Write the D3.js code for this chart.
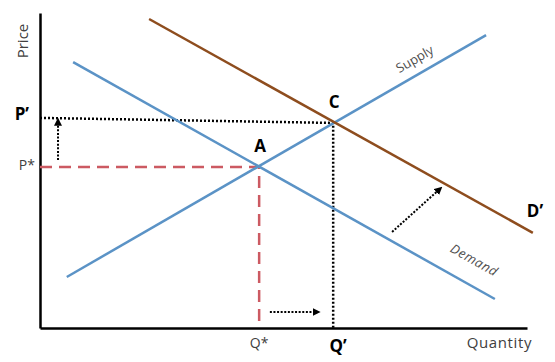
<!DOCTYPE html>
<head>
    <meta charset="UTF-8">
    <script src="https://cdnjs.cloudflare.com/ajax/libs/d3/7.8.5/d3.min.js"></script>
    <style>
        body { margin: 0; background: #fff; }
        text { font-family: "Open Sans", sans-serif; }
    </style>
</head>
<body>
    <svg id="chart"></svg>
    <script>
        //********** DATA *********************
        // curves as [quantity, price] pairs, in chart units (0..10)
        var supply = [[0.55, 1.62], [9.16, 9.30]];
        var demand = [[0.68, 8.44], [9.34, 0.92]];
        var demandNew = [[2.24, 9.81], [10.12, 3.02]];

        var pointA = [4.50, 5.11];   // Q*, P*
        var pointC = [6.02, 6.51];   // Q', P'
        var pPrimeAxis = 6.67;       // where the P' guide meets the axis

        // shift arrows: [from, to]
        var arrowPrice = [[0.37, 5.33], [0.37, 6.55]];
        var arrowQty = [[4.72, 0.51], [5.68, 0.51]];
        var arrowShift = [[7.23, 3.05], [8.20, 4.40]];

        var axisLabels = ["Price", "Quantity"];
        var pointLabels = ["A", "C"];
        var tickLabels = ["P*", "P\u2019", "Q*", "Q\u2019"];
        var curveLabels = ["Supply", "Demand", "D\u2019"];

        //********** SETUP *********************
        var width = 555, height = 362;
        var blue = "#5b93c6", brown = "#8e4d1e", red = "#cc5a62";

        var x = d3.scaleLinear().domain([0, 10]).range([40, 527]);
        var y = d3.scaleLinear().domain([0, 10]).range([328, 13]);

        var svg = d3.select("#chart").attr("width", width).attr("height", height);

        svg.append("defs").append("marker")
            .attr("id", "head")
            .attr("viewBox", "0 0 10 10")
            .attr("refX", 5).attr("refY", 5)
            .attr("markerWidth", 4).attr("markerHeight", 4)
            .attr("markerUnits", "strokeWidth")
            .attr("orient", "auto")
            .append("path")
            .attr("d", "M0,0 L10,5 L0,10 z")
            .attr("fill", "#000");

        var line = d3.line()
            .x(function (d) { return x(d[0]); })
            .y(function (d) { return y(d[1]); });

        //********** AXES *********************
        svg.append("g")
            .attr("transform", "translate(" + x(0) + ",0)")
            .call(d3.axisLeft(y).ticks(0).tickSizeOuter(0))
            .select(".domain").attr("stroke", "#000").attr("stroke-width", 2.5);

        svg.append("g")
            .attr("transform", "translate(0," + y(0) + ")")
            .call(d3.axisBottom(x).ticks(0).tickSizeOuter(0))
            .select(".domain").attr("stroke", "#000").attr("stroke-width", 2.5);

        //********** GUIDES *********************
        // red dashed lines to A
        svg.append("path")
            .attr("d", line([[0, pointA[1]], pointA, [pointA[0], 0]]))
            .attr("fill", "none").attr("stroke", red)
            .attr("stroke-width", 2.5).attr("stroke-dasharray", "12,7");

        // black dotted lines to C
        svg.append("path")
            .attr("d", line([[0, pPrimeAxis], pointC, [pointC[0], 0]]))
            .attr("fill", "none").attr("stroke", "#000")
            .attr("stroke-width", 2.5).attr("stroke-dasharray", "2,2");

        //********** CURVES *********************
        svg.append("path").attr("d", line(demand))
            .attr("fill", "none").attr("stroke", blue).attr("stroke-width", 2.5);
        svg.append("path").attr("d", line(supply))
            .attr("fill", "none").attr("stroke", blue).attr("stroke-width", 2.5);
        svg.append("path").attr("d", line(demandNew))
            .attr("fill", "none").attr("stroke", brown).attr("stroke-width", 2.5);

        //********** ARROWS *********************
        [arrowPrice, arrowQty, arrowShift].forEach(function (a) {
            svg.append("path").attr("d", line(a))
                .attr("fill", "none").attr("stroke", "#000")
                .attr("stroke-width", 2).attr("stroke-dasharray", "2,1.6")
                .attr("marker-end", "url(#head)");
        });

        //********** LABELS *********************
        svg.append("text")
            .attr("transform", "translate(" + 28 + "," + 41 + ") rotate(-90)")
            .attr("text-anchor", "middle")
            .attr("font-size", 15).attr("fill", "#404040")
            .text(axisLabels[0]);

        svg.append("text")
            .attr("x", x(10) + 5).attr("y", y(0) + 20)
            .attr("text-anchor", "end")
            .attr("font-size", 15).attr("fill", "#404040")
            .attr("letter-spacing", 0.6)
            .text(axisLabels[1]);

        // tick-style labels
        svg.append("text")
            .attr("x", x(0) - 5).attr("y", y(pointA[1]) + 3)
            .attr("text-anchor", "end")
            .attr("font-size", 14).attr("fill", "#404040")
            .text(tickLabels[0]);
        svg.append("text")
            .attr("x", x(0) - 11).attr("y", y(pPrimeAxis) + 2)
            .attr("text-anchor", "end")
            .attr("font-size", 17).attr("font-weight", "bold").attr("fill", "#000")
            .text(tickLabels[1]);
        svg.append("text")
            .attr("x", x(pointA[0])).attr("y", y(0) + 20)
            .attr("text-anchor", "middle")
            .attr("font-size", 14).attr("fill", "#404040")
            .text(tickLabels[2]);
        svg.append("text")
            .attr("x", x(pointC[0]) + 5).attr("y", y(0) + 24)
            .attr("text-anchor", "middle")
            .attr("font-size", 17).attr("font-weight", "bold").attr("fill", "#000")
            .text(tickLabels[3]);

        // points
        [pointA, pointC].forEach(function (p, i) {
            svg.append("text")
                .attr("x", x(p[0]) + 1).attr("y", y(p[1]) - 15)
                .attr("text-anchor", "middle")
                .attr("font-size", 17).attr("font-weight", "bold").attr("fill", "#000")
                .text(pointLabels[i]);
        });

        // curve names, rotated along their line
        function angle(seg) {
            var dx = x(seg[1][0]) - x(seg[0][0]), dy = y(seg[1][1]) - y(seg[0][1]);
            return Math.atan2(dy, dx) * 180 / Math.PI;
        }
        svg.append("text")
            .attr("transform", "translate(417,63) rotate(" + angle(supply) + ")")
            .attr("text-anchor", "middle")
            .attr("font-size", 13).attr("fill", "#505050")
            .text(curveLabels[0]);
        svg.append("text")
            .attr("transform", "translate(472,264) rotate(" + angle(demand) + ")")
            .attr("text-anchor", "middle")
            .attr("font-size", 13).attr("font-style", "italic").attr("fill", "#505050")
            .attr("letter-spacing", 0.6)
            .text(curveLabels[1]);
        svg.append("text")
            .attr("x", 535).attr("y", 217)
            .attr("text-anchor", "middle")
            .attr("font-size", 17).attr("font-weight", "bold").attr("fill", "#000")
            .text(curveLabels[2]);
    </script>
</body>
